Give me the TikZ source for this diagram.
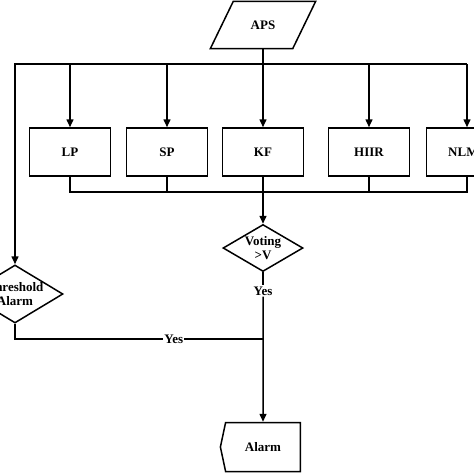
\documentclass[tikz,border=0pt]{standalone}
\usepackage{fontspec}
\setmainfont{Liberation Serif}
\usetikzlibrary{shapes.geometric,shapes.symbols,arrows.meta}

\begin{document}
\begin{tikzpicture}[x=1pt,y=-1pt,
  every node/.style={font=\fontsize{13}{14}\selectfont\bfseries},
  line/.style={line width=1.5pt},
  arrline/.style={line, -{Triangle[length=8pt,width=7pt]}},
  filter/.style={draw, line, rectangle, minimum width=81pt, minimum height=48pt},
  decision/.style={draw, line, diamond, inner sep=0pt},
  outbox/.style={draw, line, signal, signal to=west, signal pointer angle=156,
    minimum width=80pt, minimum height=49pt},
  yeslabel/.style={fill=white, inner sep=1pt}]
\useasboundingbox (0,0) rectangle (474,474);
%% input
\node[minimum width=82pt, minimum height=47pt] (aps) at (263,25) {APS};
\draw[line, line join=miter] ([xshift=11.5pt]aps.north west) -- ([xshift=11.5pt]aps.north east)
  -- ([xshift=-11.5pt]aps.south east) -- ([xshift=-11.5pt]aps.south west) -- cycle;
%% filters
\node[filter] (lp) at (70,152) {LP};
\node[filter] (sp) at (167,152) {SP};
\node[filter] (kf) at (263,152) {KF};
\node[filter] (hiir) at (369,152) {HIIR};
\node[filter] (nl) at (467,152) {NLMS};
%% decisions
\node[decision, minimum width=96pt, minimum height=58pt,
  label={[align=center]center:{Threshold\\Alarm}}] (thr) at (15,294) {};
\node[decision, minimum width=80pt, minimum height=47pt,
  label={[align=center]center:{Voting\\>V}}] (vote) at (263,248) {};
%% output
\node[outbox] (alarm) at (263,447) {Alarm};
\node[yeslabel] (yesv) at (263,291) {Yes};
%% top bus
\coordinate (split) at (15,64);
\draw[line] (aps) -- (aps |- split);
\draw[arrline] (split -| nl) -- (split) -- (thr);
\foreach \f in {lp,sp,kf,hiir,nl}
  \draw[arrline] (\f |- split) -- (\f);
%% bottom bus
\coordinate (collect) at (263,192);
\draw[line] (lp) |- (nl |- collect) -- (nl);
\draw[line] (sp) -- (sp |- collect);
\draw[line] (hiir) -- (hiir |- collect);
\draw[arrline] (kf) -- (vote);
%% alarm paths
\coordinate (merge) at (263,339);
\draw[line] (vote) -- (yesv);
\draw[arrline] (yesv) -- (alarm);
\draw[line] (thr) |- node[yeslabel, pos=0.82] {Yes} (merge);

\end{tikzpicture}
\end{document}
